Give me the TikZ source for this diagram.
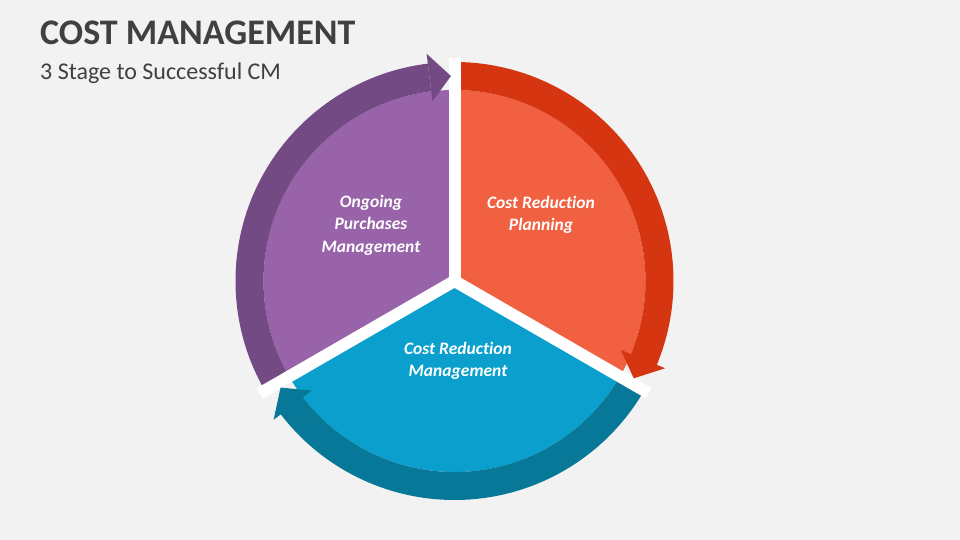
\documentclass[tikz,border=0pt]{standalone}
\usepackage{fontspec}
\setmainfont[Ligatures=NoCommon]{Carlito}
\definecolor{bg}{HTML}{F2F2F2}
\definecolor{txt}{HTML}{404040}
\definecolor{plight}{HTML}{9863A8}
\definecolor{pdark}{HTML}{734A84}
\definecolor{olight}{HTML}{F16040}
\definecolor{odark}{HTML}{D53510}
\definecolor{blight}{HTML}{0A9FCC}
\definecolor{bdark}{HTML}{087898}
\tikzset{
  lbl/.style={text=white, align=center, font=\fontsize{17.5}{22.5}\selectfont\bfseries\itshape},
  gapline/.style={draw=white, line width=12pt, line cap=butt}
}
\begin{document}
\begin{tikzpicture}[x=1pt,y=1pt]
\path[use as bounding box, fill=bg] (-454.5,-259) rectangle (505.5,281);
% titles
\node[anchor=base west, inner sep=0pt, text=txt, font=\fontsize{36}{40}\selectfont\bfseries] (title) at (-414.5,236) {COST MANAGEMENT};
\node[anchor=base west, inner sep=0pt, text=txt, font=\fontsize{24}{28}\selectfont] (subtitle) at (-414.5,201) {3 Stage to Successful CM};
% light sectors
\fill[plight] (0,0) -- (90:191) arc[start angle=90, end angle=210, radius=191] -- cycle;
\fill[olight] (0,0) -- (-30:191) arc[start angle=-30, end angle=90, radius=191] -- cycle;
\fill[blight] (0,0) -- (210:191) arc[start angle=210, end angle=330, radius=191] -- cycle;
% dark bands
\fill[pdark] (97:191) arc[start angle=97, end angle=210, radius=191] -- (210:219) arc[start angle=210, end angle=97, radius=219] -- cycle;
\fill[odark] (-23:191) arc[start angle=-23, end angle=90, radius=191] -- (90:219) arc[start angle=90, end angle=-23, radius=219] -- cycle;
\fill[bdark] (-143:191) arc[start angle=-143, end angle=-30, radius=191] -- (-30:219) arc[start angle=-30, end angle=-143, radius=219] -- cycle;
% white gaps
\coordinate (c) at (0,0);
\coordinate (g1) at (90:223);
\coordinate (g2) at (-30:224);
\coordinate (g3) at (210:225);
\draw[gapline] (c) -- (g1);
\draw[gapline] (c) -- (g2);
\draw[gapline] (c) -- (g3);
% arrow heads
\fill[pdark] (97:181) -- (91:205) -- (97:229) -- cycle;
\fill[odark] (-22.5:180) -- (-28.5:204) -- (-22.5:228) -- cycle;
\fill[bdark] (-142.5:180) -- (-148.5:204) -- (-142.5:228) -- cycle;
% labels
\node[lbl] (purple) at (-83.5,56) {Ongoing\\Purchases\\Management};
\node[lbl] (orange) at (86.5,66) {Cost Reduction\\Planning};
\node[lbl] (blue) at (3.5,-80) {Cost Reduction\\Management};
\end{tikzpicture}
\end{document}
